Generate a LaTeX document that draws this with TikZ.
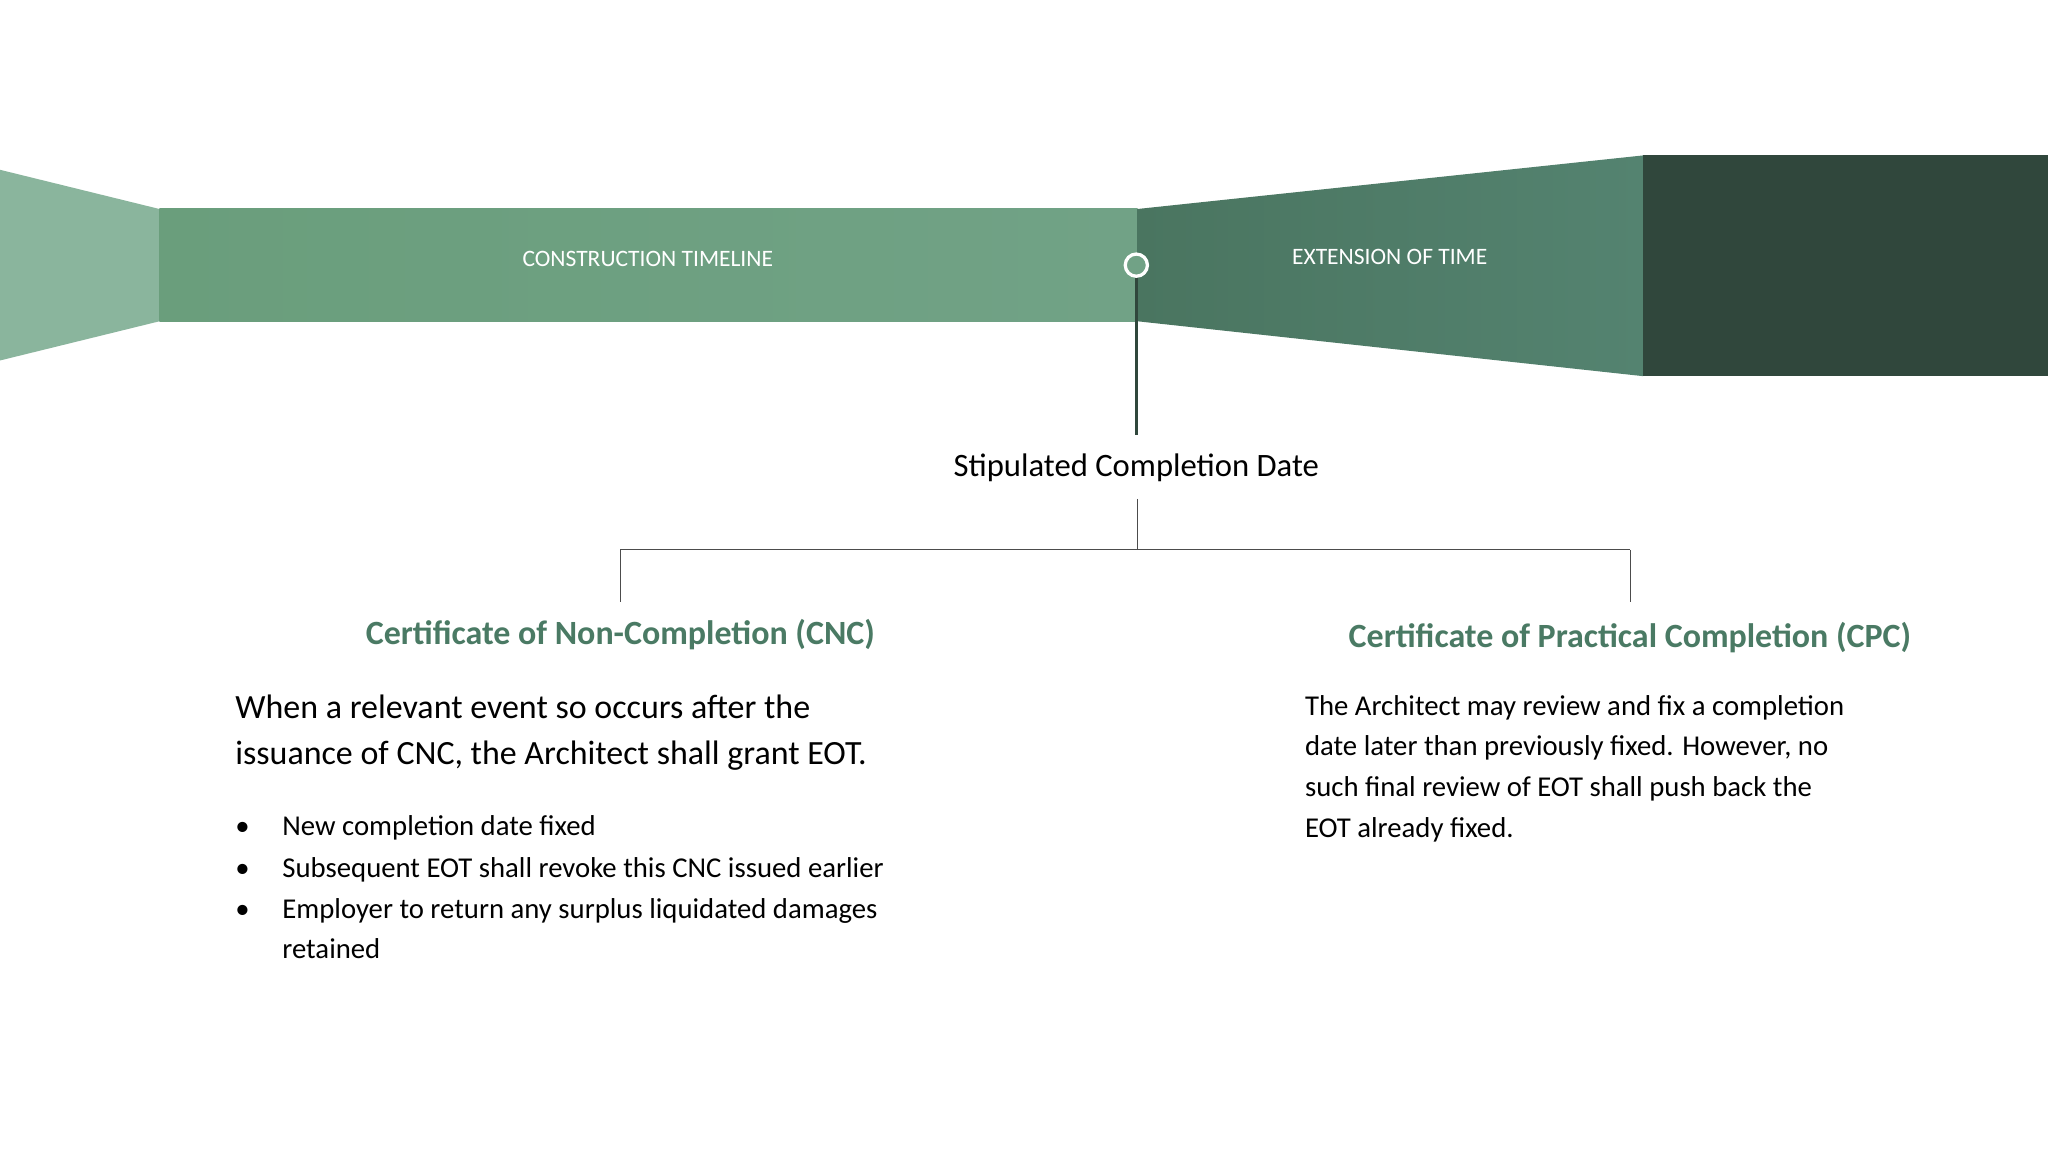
\documentclass[tikz,border=0pt]{standalone}
\usepackage{fontspec}
\setmainfont{Carlito}
\definecolor{lg}{HTML}{8AB59D}
\definecolor{mg1}{HTML}{6A9E7C}
\definecolor{mg2}{HTML}{71A286}
\definecolor{eg1}{HTML}{4A7560}
\definecolor{eg2}{HTML}{548370}
\definecolor{dk}{HTML}{30473C}
\definecolor{hd}{HTML}{4A7A64}
\begin{document}
\begin{tikzpicture}[x=1pt,y=-1pt,
 lbl/.style={text=white,font=\fontsize{18}{20}\selectfont},
 head/.style={text=hd,font=\bfseries\fontsize{26}{30}\selectfont},
 tree/.style={draw=black!70,line width=0.8pt}]
\useasboundingbox[fill=white] (0,0) rectangle (1568,882);
\fill[lg] (0,130) -- (122,160) -- (122,246) -- (0,276) -- cycle;
\shade[left color=mg1,right color=mg2] (122,160) rectangle (871,246);
\shade[left color=eg1,right color=eg2] (871,160) -- (1258,119) -- (1258,288) -- (871,246) -- cycle;
\fill[dk] (1258,119) rectangle (1568,288);
\node[lbl] (ct) at (496,198) {CONSTRUCTION TIMELINE};
\node[lbl] (eot) at (1064,197) {EXTENSION OF TIME};
\node[circle,draw=white,line width=2.5pt,fill=mg2,minimum size=17pt,inner sep=0pt] (c) at (870,203) {};
\coordinate (cb) at (870,333);
\draw[dk,line width=2pt] (c.south) -- (cb);
\node[font=\fontsize{25}{30}\selectfont] (scd) at (870,358) {Stipulated Completion Date};
\coordinate (t0) at (871,382);
\coordinate (tm) at (871,421);
\coordinate (tl) at (475,421);
\coordinate (tr) at (1248,421);
\coordinate (tld) at (475,461);
\coordinate (trd) at (1248,461);
\draw[tree] (t0) -- (tm) (tl) -- (tr) (tl) -- (tld) (tr) -- (trd);
\node[head] (cnc) at (475,486) {Certificate of Non-Completion (CNC)};
\node[head] (cpc) at (1248,488) {Certificate of Practical Completion (CPC)};
\node[anchor=north west,align=left,inner sep=0pt,font=\fontsize{26}{35}\selectfont] (lp) at (180,532)
 {When a relevant event so occurs after the\\issuance of CNC, the Architect shall grant EOT.};
\begin{scope}[every node/.style={anchor=base west,inner sep=0pt,font=\fontsize{22}{31.5}\selectfont}]
\node (b1) at (180,640) {•}; \node (t1) at (216,640) {New completion date fixed};
\node (b2) at (180,672) {•}; \node (t2) at (216,672) {Subsequent EOT shall revoke this CNC issued earlier};
\node (b3) at (180,703) {•}; \node (t3) at (216,703) {Employer to return any surplus liquidated damages};
\node (t4) at (216,734) {retained};
\end{scope}
\node[anchor=north west,align=left,inner sep=0pt,font=\fontsize{22}{31.3}\selectfont] (rp) at (999,532)
 {The Architect may review and fix a completion\\date later than previously fixed. However, no\\such final review of EOT shall push back the\\EOT already fixed.};
\end{tikzpicture}
\end{document}
